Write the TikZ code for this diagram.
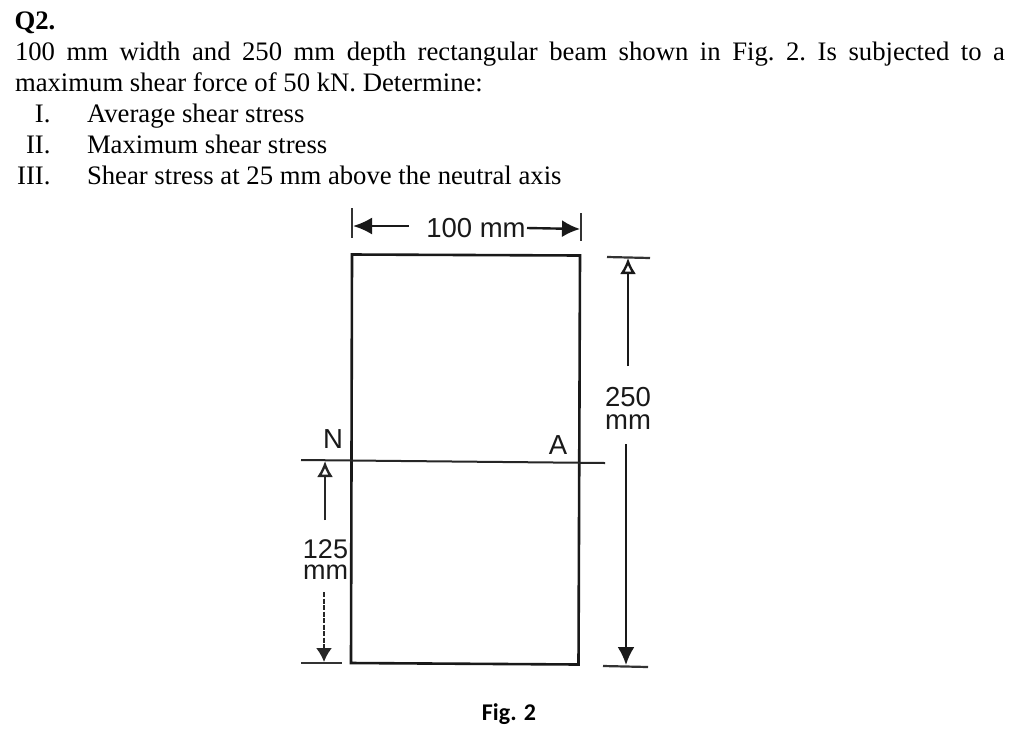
\documentclass[tikz,border=0pt]{standalone}
\usepackage{fontspec}
\setmainfont{Liberation Serif}
\newfontfamily\labelfont{Liberation Sans}
\newfontfamily\figfont{Carlito}
\usetikzlibrary{arrows.meta}
\tikzset{
  x=1pt,y=-1pt,
  txt/.style={inner sep=0pt,outer sep=0pt,anchor=base west,font=\fontsize{26.7}{30}\selectfont},
  lbl/.style={inner sep=0pt,outer sep=0pt,anchor=base,font=\labelfont\fontsize{27.5}{24}\selectfont,text=black!90},
  beam/.style={line width=2.6pt,black!90},
  dimline/.style={line width=2.4pt,black!90},
  thinline/.style={line width=2pt,black!85},
  tick/.style={line width=2.2pt,black!80},
  tipfull/.style={-{Latex[length=18pt,width=17pt]}},
  tipfullb/.style={{Latex[length=19pt,width=17pt]}-},
  tipopen/.style={-{Latex[length=16pt,width=16pt,open,line width=2.4pt]}},
  tipsmall/.style={-{Latex[length=14pt,width=16pt]}}
}
\begin{document}
\begin{tikzpicture}
\useasboundingbox (0,0) rectangle (1024,737);
\fill[white] (0,0) rectangle (1024,737);
% text block
\node[txt,font=\bfseries\fontsize{26.7}{30}\selectfont] (q) at (14.5,29) {Q2.};
\node[txt] (l1) at (15,60) {\frenchspacing\makebox[990pt][s]{100 mm width and 250 mm depth rectangular beam shown in Fig. 2. Is subjected to a}};
\node[txt] (l2) at (15,91) {\frenchspacing maximum shear force of 50 kN. Determine:};
\node[txt,anchor=base east] (n1) at (50.5,122) {I.};
\node[txt] (t1) at (87,122) {Average shear stress};
\node[txt,anchor=base east] (n2) at (50.5,153) {II.};
\node[txt] (t2) at (87,153) {Maximum shear stress};
\node[txt,anchor=base east] (n3) at (50.5,184) {III.};
\node[txt] (t3) at (87,184) {Shear stress at 25 mm above the neutral axis};
% beam
\coordinate (tl) at (352,254.5);
\coordinate (tr) at (580,255.5);
\coordinate (br) at (578.5,664.5);
\coordinate (bl) at (351,663);
\draw[beam,line join=miter] (tl) -- (tr) -- (br) -- (bl) -- cycle;
% neutral axis
\coordinate (naL) at (301,460);
\coordinate (naR) at (605,463);
\draw[thinline] (naL) -- (naR);
\node[lbl] (N) at (333,448) {N};
\node[lbl] (A) at (558,454) {A};
% width dimension
\coordinate (wl) at (352,208);
\coordinate (wlb) at (352,238);
\coordinate (wr) at (581,213);
\coordinate (wrb) at (581,241);
\draw[tick] (wl) -- (wlb);
\draw[tick] (wr) -- (wrb);
\node[lbl] (w) at (476,237) {100 mm};
\coordinate (wa) at (353,226);
\coordinate (wb) at (409,226);
\coordinate (wc) at (527,228);
\coordinate (wd) at (580,229);
\draw[dimline,tipfullb] (wa) -- (wb);
\draw[dimline,tipfull] (wc) -- (wd);
% 250 mm dimension
\coordinate (rt1) at (607,257);
\coordinate (rt2) at (650,258);
\coordinate (rb1) at (603,666);
\coordinate (rb2) at (648,667);
\draw[tick] (rt1) -- (rt2);
\draw[tick] (rb1) -- (rb2);
\node[lbl] (r) at (628,406) {250};
\node[lbl] (rm) at (628,429) {mm};
\coordinate (ra) at (628,366);
\coordinate (rb) at (628,258);
\coordinate (rc) at (626,444);
\coordinate (rd) at (626,665);
\draw[dimline,tipopen] (ra) -- (rb);
\draw[dimline,tipfull] (rc) -- (rd);
% 125 mm dimension
\coordinate (lb1) at (301,663);
\coordinate (lb2) at (342,663);
\draw[tick] (lb1) -- (lb2);
\node[lbl,font=\labelfont\fontsize{27}{22}\selectfont] (s) at (325.5,558) {125};
\node[lbl,font=\labelfont\fontsize{27}{22}\selectfont] (sm) at (325.5,579) {mm};
\coordinate (sa) at (325,520);
\coordinate (sb) at (325,461);
\coordinate (sc) at (324,592);
\coordinate (sd) at (324,662);
\draw[thinline,tipopen] (sa) -- (sb);
\draw[thinline,dash pattern=on 5pt off 1.5pt,tipsmall] (sc) -- (sd);
% caption
\node[inner sep=0pt,anchor=base,font=\figfont\bfseries\fontsize{24}{28}\selectfont] (fig) at (509,720) {Fig. 2};
\end{tikzpicture}
\end{document}
